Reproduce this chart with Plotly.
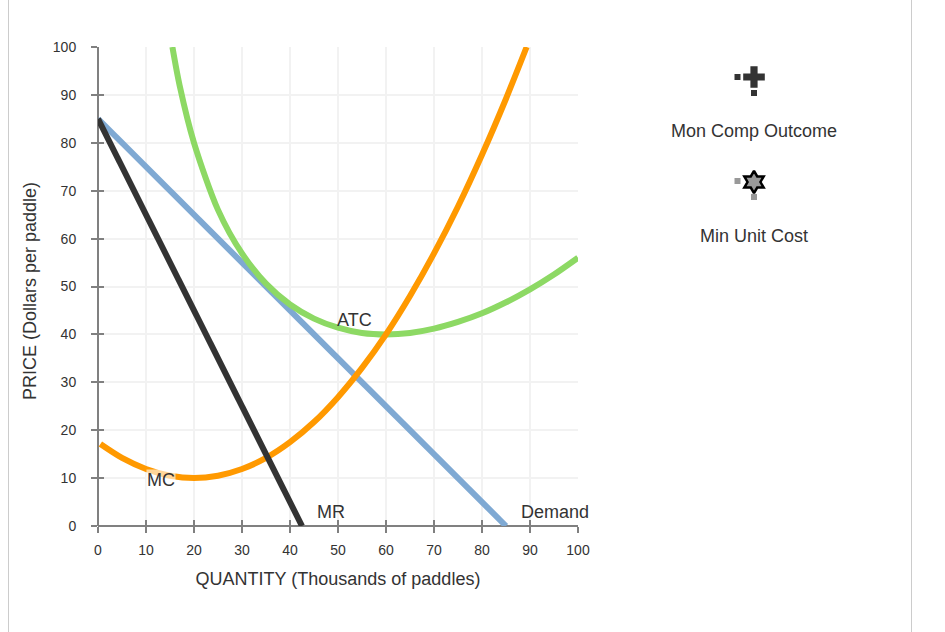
import plotly.graph_objects as go

# === Data ===
demand_x = [0, 85]
demand_y = [85, 0]
mr_x = [0, 42.5]
mr_y = [85, 0]
mc_x = [0.5, 5, 10, 15, 20, 25, 30, 35, 40, 45, 50, 55, 60, 65, 70, 75, 80, 85, 89.3]
mc_y = [17.1, 14.2, 11.9, 10.5, 10, 10.5, 11.9, 14.2, 17.5, 21.7, 26.9, 33, 40, 48, 56.9, 66.7, 77.5, 89.2, 100]
atc_x = [15.5, 17, 20, 25, 30, 35, 40, 45, 50, 55, 60, 65, 70, 75, 80, 85, 90, 95, 100]
atc_y = [100, 92, 80, 66, 56.9, 50.6, 46.25, 43.3, 41.4, 40.3, 40, 40.3, 41.2, 42.6, 44.4, 46.7, 49.4, 52.5, 56]

curve_labels = ["ATC", "MC", "MR", "Demand"]
label_x = [53.5, 13.2, 48.5, 95.3]
label_y = [43, 9.7, 3, 3]

ticks = list(range(0, 101, 10))

# legend entries live on a second axis pair measured in page pixels
legend_names = ["Mon Comp Outcome", "Min Unit Cost"]
legend_x = [754, 754]
legend_y = [77, 182]
legend_text_y = [131, 236]

FONT = "Liberation Sans, Arial, sans-serif"
W, H = 945, 632
AXIS_COLOR = "#808080"
GRID_COLOR = "#f2f2f2"

fig = go.Figure()


def curve(x, y, color, **kw):
    fig.add_trace(go.Scatter(x=x, y=y, mode="lines", showlegend=False, hoverinfo="skip",
                             line=dict(color=color, width=6, shape="spline", smoothing=0.8), **kw))


curve(demand_x, demand_y, "#7fa9d3")
curve(atc_x, atc_y, "#8dd964")
curve(mc_x, mc_y, "#ff9900")
# MR sits on the overlay axes, which also draw the inside half of the ticks
curve(mr_x, mr_y, "#333333", xaxis="x3", yaxis="y3")

# legend: symbol, then the two little dash squares next to it
for i, name in enumerate(legend_names):
    dark = i == 0
    fill = "#333333" if dark else "#999999"
    fig.add_trace(go.Scatter(
        x=[legend_x[i] - 16.5, legend_x[i]], y=[legend_y[i] - (0 if dark else 1), legend_y[i] + (16 if dark else 15)],
        xaxis="x2", yaxis="y2", mode="markers", showlegend=False, hoverinfo="skip",
        marker=dict(symbol="square", size=6, color=fill)))
    fig.add_trace(go.Scatter(
        x=[legend_x[i]], y=[legend_y[i]], xaxis="x2", yaxis="y2", mode="markers",
        showlegend=False, hoverinfo="skip",
        marker=dict(symbol="cross" if dark else "hexagram", size=18 if dark else 17, color=fill,
                    line=dict(color="#000000", width=0 if dark else 2.5))))
    fig.add_annotation(x=legend_x[i], y=legend_text_y[i], xref="x2", yref="y2", text=name,
                       showarrow=False, font=dict(size=18, color="#333333", family=FONT))

for i, text in enumerate(curve_labels):
    fig.add_annotation(x=label_x[i], y=label_y[i], text=text, showarrow=False,
                       bgcolor="rgba(255,255,255,0.6)" if text == "MC" else None,
                       borderpad=0,
                       font=dict(size=18, color="#333333", family=FONT))

# y title is an annotation because it sits a few px below the axis centre
fig.add_annotation(x=30, y=291, xref="x2", yref="y2", text="PRICE (Dollars per paddle)",
                   textangle=-90, showarrow=False,
                   font=dict(size=18, color="#333333", family=FONT))

axis_common = dict(
    range=[0, 100], tickmode="array", tickvals=ticks, ticktext=[str(t) for t in ticks],
    showgrid=True, gridcolor=GRID_COLOR, gridwidth=2, automargin=False,
    zeroline=True, zerolinecolor=AXIS_COLOR, zerolinewidth=2, showline=False,
    ticks="outside", ticklen=6, tickwidth=2, tickcolor=AXIS_COLOR,
    tickfont=dict(size=14, color="#333333", family=FONT),
)
inside_common = dict(
    range=[0, 100], tickmode="array", tickvals=ticks, showticklabels=False,
    showgrid=False, zeroline=False, showline=False,
    ticks="inside", ticklen=6, tickwidth=2, tickcolor=AXIS_COLOR,
)

fig.update_layout(
    width=W, height=H,
    margin=dict(l=0, r=0, t=0, b=0),
    paper_bgcolor="white", plot_bgcolor="rgba(0,0,0,0)",
    font=dict(family=FONT),
    xaxis=dict(domain=[98 / W, 578 / W], ticklabelstandoff=5,
               title=dict(text="QUANTITY (Thousands of paddles)",
                          font=dict(size=18, color="#333333", family=FONT)),
               **axis_common),
    yaxis=dict(domain=[1 - 526 / H, 1 - 47 / H], ticklabelstandoff=12, **axis_common),
    xaxis3=dict(overlaying="x", anchor="y3", **inside_common),
    yaxis3=dict(overlaying="y", anchor="x3", **inside_common),
    xaxis2=dict(domain=[0, 1], range=[0, W], anchor="y2", visible=False),
    yaxis2=dict(domain=[0, 1], range=[H, 0], anchor="x2", visible=False),
    shapes=[
        dict(type="line", xref="x2", yref="y2", x0=8.5, x1=8.5, y0=0, y1=H,
             line=dict(color="#cccccc", width=1)),
        dict(type="line", xref="x2", yref="y2", x0=911.5, x1=911.5, y0=0, y1=H,
             line=dict(color="#cccccc", width=1)),
    ],
)

fig.write_html("out.html", config={"displayModeBar": False},
               post_script="document.body.style.margin='0';document.body.style.overflow='hidden';")
